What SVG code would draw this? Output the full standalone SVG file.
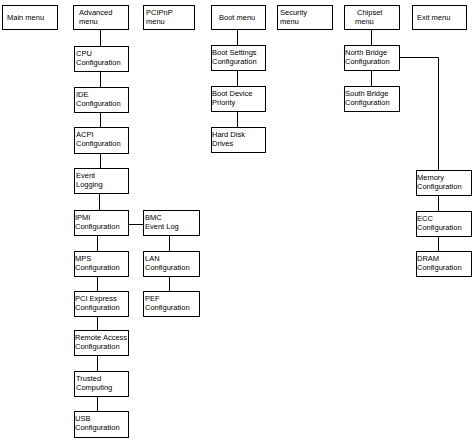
<svg xmlns="http://www.w3.org/2000/svg" width="474" height="440" viewBox="0 0 474 440">
<style>
rect{fill:#fff;stroke:#000;stroke-width:1}
text{font-family:"Liberation Sans",Arial,sans-serif;font-size:7.5px;fill:#000}
#connectors path{fill:none;stroke:#000;stroke-width:1}
</style>
<rect x="0" y="0" width="474" height="440" style="stroke:none"/>
<g id="connectors">
<path d="M100.5 29.5V46.5M100.5 71.5V87.5M100.5 112.5V127.5M100.5 153.5V168.5M99.5 193.5V210.5M97.5 235.5V251.5M97.5 276.5V291.5M97.5 316.5V330.5M97.5 355.5V371.5M97.5 396.5V411.5"/>
<path d="M128.5 224.5H143.5M169.5 235.5V251.5M169.5 276.5V291.5"/>
<path d="M237.5 29.5V45.5M237.5 70.5V86.5M237.5 111.5V127.5"/>
<path d="M371.5 29.5V45.5M371.5 70.5V86.5M399.5 57.5H438.5V170.5M438.5 195.5V211.5M438.5 236.5V251.5"/>
</g>
<g id="main"><rect x="2.5" y="5.5" width="55" height="24"/><text x="7" y="20">Main menu</text></g>
<g id="advanced"><rect x="73.5" y="5.5" width="55" height="24"/><text x="79" y="15">Advanced</text><text x="79" y="24">menu</text></g>
<g id="pcipnp"><rect x="143.5" y="5.5" width="51" height="24"/><text x="146" y="15">PCIPnP</text><text x="146" y="24">menu</text></g>
<g id="boot"><rect x="211.5" y="5.5" width="54" height="24"/><text x="219" y="20">Boot  menu</text></g>
<g id="security"><rect x="277.5" y="5.5" width="55" height="24"/><text x="280" y="15">Security</text><text x="280" y="24">menu</text></g>
<g id="chipset"><rect x="344.5" y="5.5" width="55" height="24"/><text x="357" y="15">Chipset</text><text x="355" y="24">menu</text></g>
<g id="exit"><rect x="412.5" y="5.5" width="54" height="24"/><text x="417" y="20">Exit menu</text></g>

<g id="cpu"><rect x="74.5" y="46.5" width="54" height="25"/><text x="76" y="56">CPU</text><text x="76" y="65">Configuration</text></g>
<g id="ide"><rect x="74.5" y="87.5" width="54" height="25"/><text x="76" y="97">IDE</text><text x="76" y="106">Configuration</text></g>
<g id="acpi"><rect x="74.5" y="127.5" width="54" height="26"/><text x="76" y="137">ACPI</text><text x="76" y="146">Configuration</text></g>
<g id="event"><rect x="74.5" y="168.5" width="54" height="25"/><text x="76" y="178">Event</text><text x="76" y="187">Logging</text></g>
<g id="ipmi"><rect x="74.5" y="210.5" width="54" height="25"/><text x="75" y="220">IPMI</text><text x="75" y="229">Configuration</text></g>
<g id="mps"><rect x="74.5" y="251.5" width="54" height="25"/><text x="75" y="261">MPS</text><text x="75" y="270">Configuration</text></g>
<g id="pcie"><rect x="74.5" y="291.5" width="54" height="25"/><text x="75" y="301">PCI Express</text><text x="75" y="310">Configuration</text></g>
<g id="remote"><rect x="74.5" y="330.5" width="54" height="25"/><text x="75" y="340">Remote Access</text><text x="75" y="349">Configuration</text></g>
<g id="trusted"><rect x="74.5" y="371.5" width="54" height="25"/><text x="76" y="381">Trusted</text><text x="76" y="390">Computing</text></g>
<g id="usb"><rect x="74.5" y="411.5" width="54" height="26"/><text x="75" y="421">USB</text><text x="75" y="430">Configuration</text></g>

<g id="bmc"><rect x="143.5" y="210.5" width="56" height="25"/><text x="145" y="220">BMC</text><text x="145" y="229">Event Log</text></g>
<g id="lan"><rect x="143.5" y="251.5" width="56" height="25"/><text x="145" y="261">LAN</text><text x="145" y="270">Configuration</text></g>
<g id="pef"><rect x="143.5" y="291.5" width="56" height="25"/><text x="145" y="301">PEF</text><text x="145" y="310">Configuration</text></g>

<g id="bootsettings"><rect x="211.5" y="45.5" width="54" height="25"/><text x="212" y="55">Boot Settings</text><text x="212" y="64">Configuration</text></g>
<g id="bootdevice"><rect x="211.5" y="86.5" width="54" height="25"/><text x="212" y="96">Boot Device</text><text x="212" y="105">Priority</text></g>
<g id="harddisk"><rect x="211.5" y="127.5" width="54" height="25"/><text x="212" y="137">Hard Disk</text><text x="212" y="146">Drives</text></g>

<g id="northbridge"><rect x="344.5" y="45.5" width="55" height="25"/><text x="345" y="55">North Bridge</text><text x="345" y="64">Configuration</text></g>
<g id="southbridge"><rect x="344.5" y="86.5" width="55" height="25"/><text x="345" y="96">South Bridge</text><text x="345" y="105">Configuration</text></g>

<g id="memory"><rect x="416.5" y="170.5" width="55" height="25"/><text x="417" y="180">Memory</text><text x="417" y="189">Configuration</text></g>
<g id="ecc"><rect x="416.5" y="211.5" width="55" height="25"/><text x="417" y="221">ECC</text><text x="417" y="230">Configuration</text></g>
<g id="dram"><rect x="416.5" y="251.5" width="55" height="25"/><text x="417" y="261">DRAM</text><text x="417" y="270">Configuration</text></g>
</svg>
